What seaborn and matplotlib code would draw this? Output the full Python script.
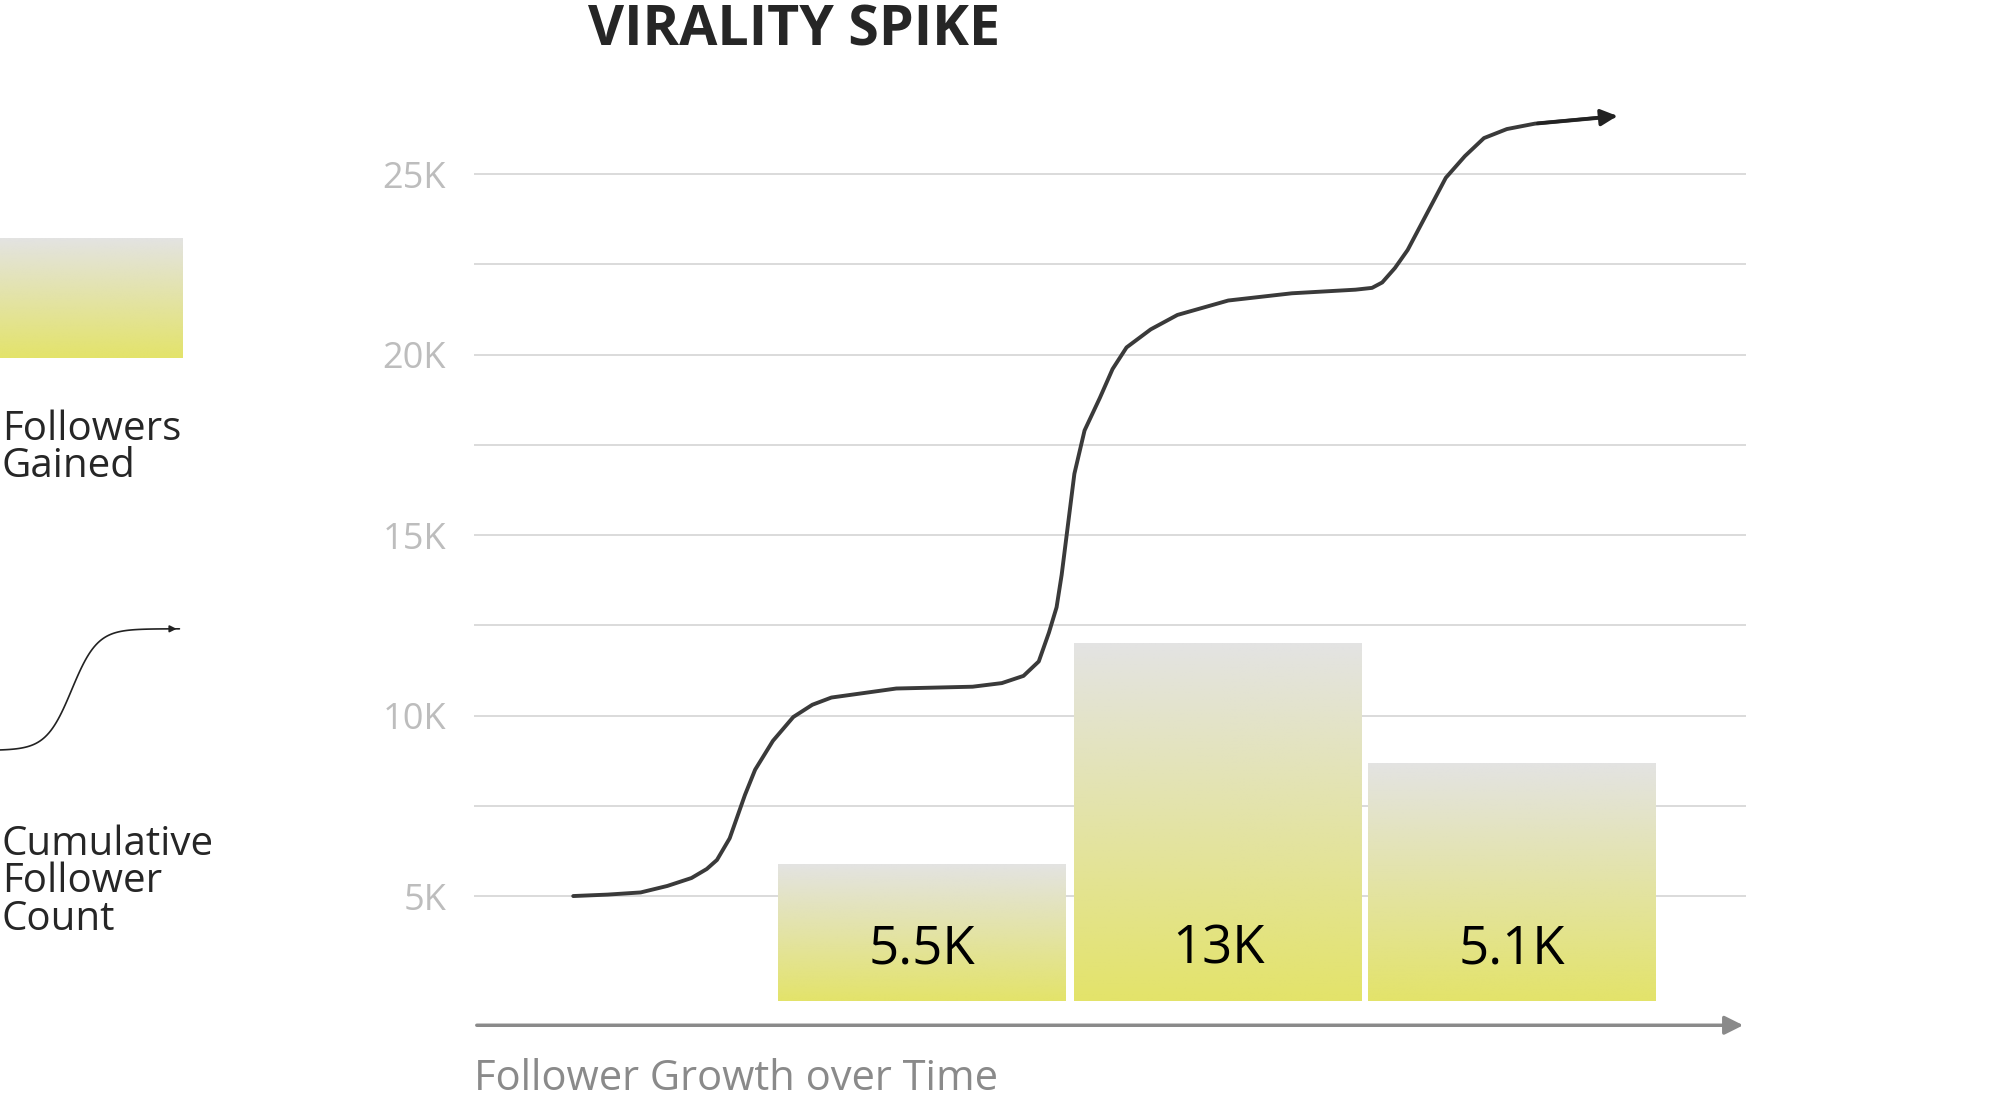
import numpy as np
import pandas as pd
import matplotlib
matplotlib.use("Agg")
import matplotlib.pyplot as plt
import seaborn as sns
from matplotlib.colors import LinearSegmentedColormap

sns.set_theme(style="white")
plt.rcParams['font.family'] = ['Open Sans', 'DejaVu Sans']

# cumulative follower count (time in % of period, followers in K)
time_pts = [7.8, 10.5, 13.1, 15.2, 17.1, 18.3, 19.1, 20.1, 20.6, 21.3, 22.1, 23.5, 25.1, 26.6, 28.1,
            33.2, 39.2, 41.5, 43.2, 44.4, 45.2, 45.8, 46.2, 46.7, 47.2, 48.0, 49.2, 50.2, 51.3,
            53.2, 55.3, 59.3, 64.3, 69.3, 70.6, 71.4, 72.4, 73.4, 74.9, 76.4, 77.9, 79.4, 81.2, 83.4, 89.6]
followers = [5.0, 5.04, 5.1, 5.28, 5.5, 5.75, 6.0, 6.6, 7.1, 7.8, 8.5, 9.3, 9.96, 10.3, 10.5,
             10.75, 10.8, 10.9, 11.1, 11.5, 12.3, 13.0, 13.9, 15.3, 16.7, 17.9, 18.8, 19.6, 20.2,
             20.7, 21.1, 21.5, 21.7, 21.8, 21.85, 22.0, 22.4, 22.9, 23.9, 24.9, 25.5, 26.0, 26.25, 26.4, 26.6]

# followers gained per period
bar_pos = [35.2, 58.5, 81.6]
bar_height = [5.9, 12.0, 8.7]
bar_labels = ["5.5K", "13K", "5.1K"]
bar_base = 2.1

y_ticks = [5, 10, 15, 20, 25]
y_tick_labels = ["5K", "10K", "15K", "20K", "25K"]

cmap = LinearSegmentedColormap.from_list("g", ["#e3e36a", "#e3e3e3"])
grad = np.linspace(0, 1, 256).reshape(-1, 1)

fig = plt.figure(figsize=(20, 11.12), dpi=100)
ax = fig.add_axes([0.237, 0.078, 0.636, 0.853])
ax.set_xlim(0, 100)
ax.set_ylim(1.42, 27.7)

for v in np.arange(5, 26.5, 2.5):
    ax.axhline(v, color="#d8d8d8", lw=1.3, zorder=0)

for x, h in zip(bar_pos, bar_height):
    w = 22.6
    rect = plt.Rectangle((x - w / 2, bar_base), w, h - bar_base, fc="none", ec="none")
    ax.add_patch(rect)
    im = ax.imshow(grad, cmap=cmap, extent=[x - w / 2, x + w / 2, bar_base, h],
                   aspect="auto", origin="lower", zorder=1)
    im.set_clip_path(rect)
for x, lab in zip(bar_pos, bar_labels):
    ax.text(x, 3.5, lab, ha="center", va="center", fontsize=38, color="black", zorder=3)

df = pd.DataFrame({"t": time_pts, "f": followers})
sns.lineplot(data=df, x="t", y="f", ax=ax, color="#3a3a3a", lw=2.8, zorder=4,
             solid_joinstyle="round", solid_capstyle="round")
ax.annotate("", xy=(time_pts[-1] + 0.5, followers[-1] + 0.02), xytext=(time_pts[-2], followers[-2]),
            arrowprops=dict(arrowstyle="-|>", color="#222222", lw=2.5, mutation_scale=25), zorder=5)
ax.set_xlim(0, 100)
ax.set_ylim(1.42, 27.7)

ax.annotate("", xy=(100, 1.42), xytext=(0, 1.42),
            arrowprops=dict(arrowstyle="-|>", color="#8a8a8a", lw=2.5, mutation_scale=28),
            annotation_clip=False)

ax.set_yticks(y_ticks)
ax.set_yticklabels(y_tick_labels, fontsize=26, color="#bdbdbd")
ax.tick_params(axis="y", length=0, pad=20)
ax.set_xticks([])
ax.set_xlabel("")
ax.set_ylabel("")
for s in ax.spines.values():
    s.set_visible(False)

fig.text(0.397, 0.972, "VIRALITY SPIKE", ha="center", va="center", fontsize=40, fontweight="bold")
fig.text(0.237, 0.03, "Follower Growth over Time", ha="left", va="center", fontsize=30, color="#8a8a8a")

# legend
lax = fig.add_axes([0.0, 0.678, 0.0915, 0.108])
lax.imshow(grad, cmap=cmap, extent=[0, 1, 0, 1], aspect="auto", origin="lower")
lax.axis("off")
fig.text(0.001, 0.597, "Followers\nGained", ha="left", va="center", fontsize=29, linespacing=0.9)

cax = fig.add_axes([0.0, 0.323, 0.0915, 0.117])
xs = np.linspace(0, 1, 100)
ys = 1 / (1 + np.exp(-(xs - 0.4) * 14))
cax.plot(xs, ys, color="#222222", lw=1.2)
cax.annotate("", xy=(1, ys[-1]), xytext=(0.93, ys[-1]),
             arrowprops=dict(arrowstyle="-|>", color="#222222", lw=1.2, mutation_scale=10))
cax.set_xlim(0, 1.02)
cax.set_ylim(-0.02, 1.05)
cax.axis("off")
fig.text(0.001, 0.207, "Cumulative\nFollower\nCount", ha="left", va="center", fontsize=29, linespacing=0.9)

fig.savefig("out.png", dpi=100, facecolor="white")
